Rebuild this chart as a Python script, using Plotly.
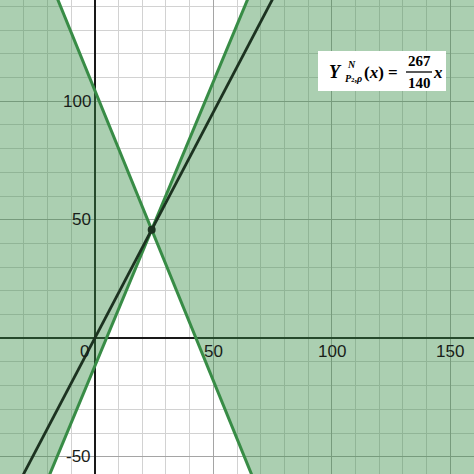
import numpy as np
import plotly.graph_objects as go

# lines: y = m*x + b
dark_slope = 267 / 140
green_slopes = [2.4, -2.45]
green_intercepts = [-11.8, 104.6]

x_ticks = [0, 50, 100, 150]
y_ticks = [-50, 50, 100]

x_range = [-40, 160]
y_range = [-57.3, 142.7]

green = 'rgb(56,140,70)'
fill = 'rgba(56,140,70,0.42)'
dark = 'rgb(28,50,32)'

m1, m2 = green_slopes
b1, b2 = green_intercepts
x_cross = (b2 - b1) / (m1 - m2)
y_cross = dark_slope * x_cross

xs = np.array([x_range[0], x_cross, x_range[1]])
l1 = m1 * xs + b1
l2 = m2 * xs + b2

fig = go.Figure()

# shaded region between the two green lines
fig.add_trace(go.Scatter(x=xs, y=np.minimum(l1, l2), mode='lines',
                         line=dict(width=0), hoverinfo='skip'))
fig.add_trace(go.Scatter(x=xs, y=np.maximum(l1, l2), mode='lines',
                         line=dict(width=0), fill='tonexty', fillcolor=fill,
                         hoverinfo='skip'))

for m, b in zip(green_slopes, green_intercepts):
    fig.add_trace(go.Scatter(x=x_range, y=[m * x_range[0] + b, m * x_range[1] + b],
                             mode='lines', line=dict(color=green, width=3)))

fig.add_trace(go.Scatter(x=x_range, y=[dark_slope * x_range[0], dark_slope * x_range[1]],
                         mode='lines', line=dict(color=dark, width=2.8)))

fig.add_trace(go.Scatter(x=[x_cross], y=[y_cross], mode='markers',
                         marker=dict(color=dark, size=8)))

axis_common = dict(
    dtick=50, tick0=0, showgrid=True, gridcolor='rgb(165,165,165)', gridwidth=1,
    minor=dict(dtick=10, showgrid=True, gridcolor='rgb(210,210,210)', gridwidth=1),
    zeroline=True, zerolinecolor='rgb(25,25,25)', zerolinewidth=1.5,
    showticklabels=False, ticks='', showline=False, fixedrange=True,
)
fig.update_xaxes(range=x_range, **axis_common)
fig.update_yaxes(range=y_range, **axis_common)

label_font = dict(family='Liberation Sans, Arial, sans-serif', size=17, color='rgb(25,30,25)')
for t in x_ticks:
    fig.add_annotation(x=t, y=0, text=str(t), showarrow=False, font=label_font,
                       xanchor='right' if t == 0 else 'center', yanchor='top',
                       xshift=-4 if t == 0 else 0, yshift=-2)
for t in y_ticks:
    fig.add_annotation(x=0, y=t, text=str(t), showarrow=False, font=label_font,
                       xanchor='right', yanchor='middle', xshift=-2)

# equation label box
W = 474
fig.add_shape(type='rect', xref='paper', yref='paper',
              x0=318 / W, x1=446 / W, y0=1 - 91 / W, y1=1 - 51 / W,
              fillcolor='white', line=dict(width=0))
math = dict(family='Liberation Serif, DejaVu Serif, serif', color='black')


def label(px, py, text, size, anchor='left'):
    fig.add_annotation(xref='paper', yref='paper', x=px / W, y=1 - py / W, text=text,
                       showarrow=False, xanchor=anchor, yanchor='middle',
                       font=dict(size=size, **math))


label(327, 72, '<b><i>Y</i></b>', 18)
label(345, 64, '<b><i>N</i></b>', 10)
label(343, 79, '<b><i>P</i><span style="font-size:7px">2</span>,<i>ρ</i></b>', 10)
label(362, 72, '<b>(<i>x</i>) =</b>', 17)
label(419, 61, '<b>267</b>', 15, 'center')
label(419, 83, '<b>140</b>', 15, 'center')
label(431, 72, '<b><i>x</i></b>', 17)
fig.add_shape(type='line', xref='paper', yref='paper',
              x0=406 / W, x1=432 / W, y0=1 - 72 / W, y1=1 - 72 / W,
              line=dict(color='black', width=1.3))

fig.update_layout(
    width=474, height=474, showlegend=False,
    margin=dict(l=0, r=0, t=0, b=0),
    plot_bgcolor='white', paper_bgcolor='white',
)
fig.write_html('out.html', config={'displayModeBar': False},
               post_script="document.body.style.margin='0';")
